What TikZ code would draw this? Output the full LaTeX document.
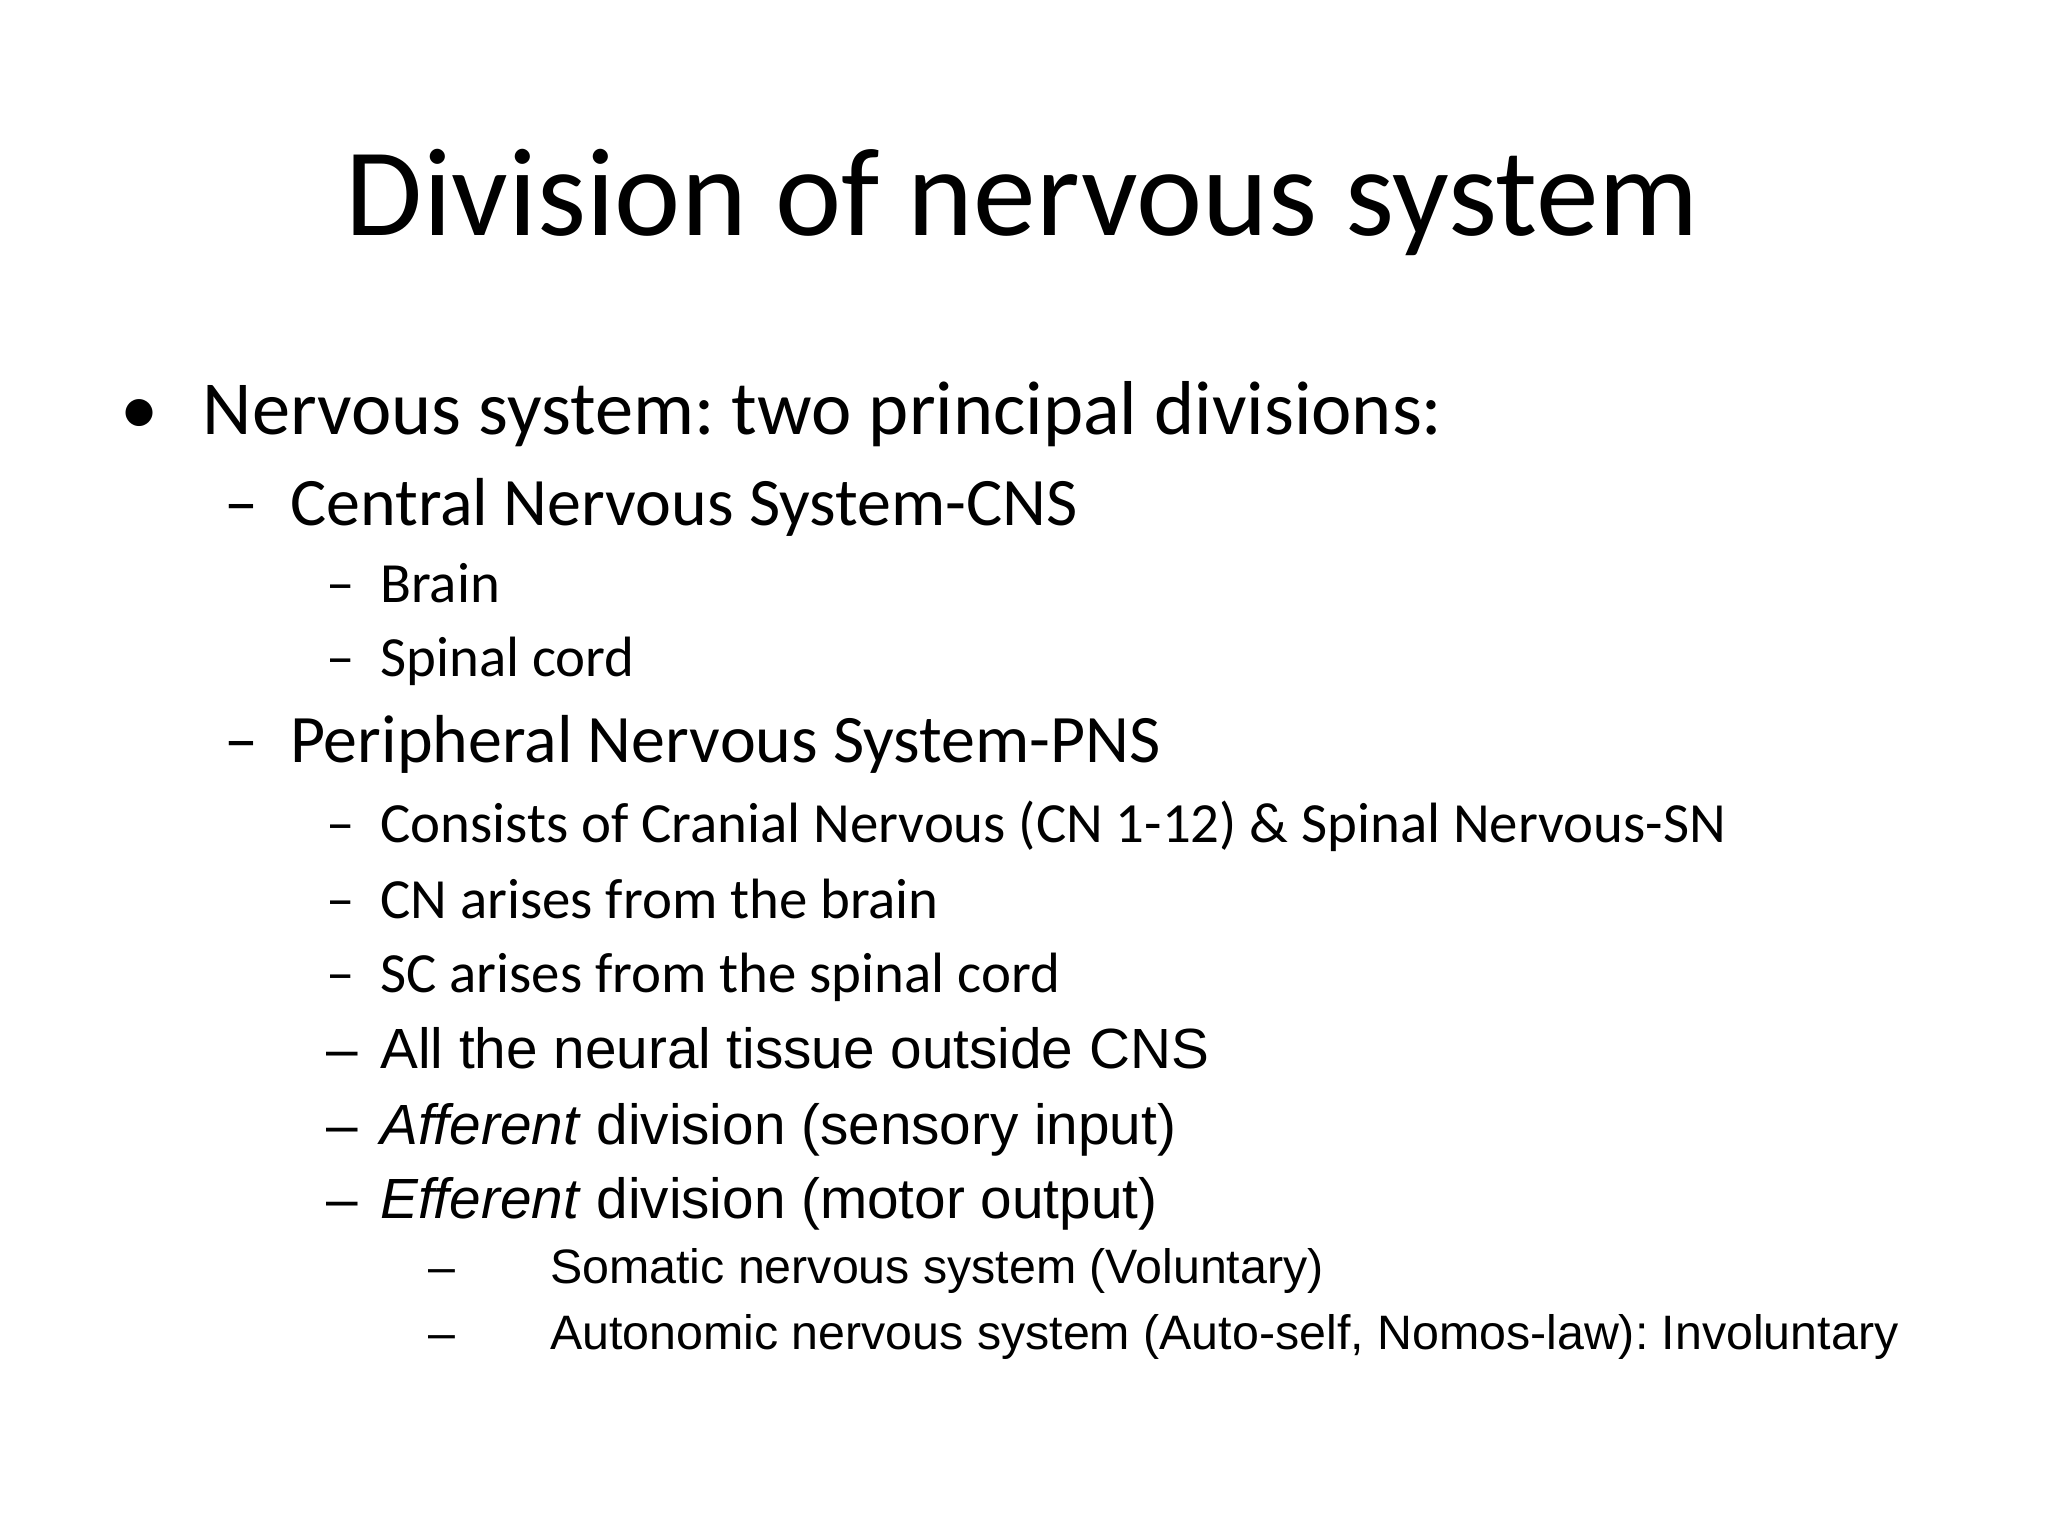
\documentclass[tikz,border=0pt]{standalone}
\usepackage{fontspec}
\setmainfont{Carlito}
\newfontfamily\arialf{Liberation Sans}
\frenchspacing
\begin{document}
\begin{tikzpicture}[x=1pt,y=-1pt,
  t/.style={anchor=base west,inner sep=0pt,text=black},
  cone/.style={t,font=\fontsize{58.5}{70}\selectfont},
  ctwo/.style={t,font=\fontsize{52}{60}\selectfont},
  cthree/.style={t,font=\fontsize{43.5}{52}\selectfont},
  athree/.style={t,font=\arialf\fontsize{43.4}{52}\selectfont},
  afour/.style={t,font=\arialf\fontsize{37}{44}\selectfont}]
\useasboundingbox (0,0) rectangle (1568,1176);
\fill[white] (0,0) rectangle (1568,1176);
\node[inner sep=0pt,anchor=base,font=\fontsize{96}{110}\selectfont] (title) at (783,180) {Division of nervous system};
\node[cone] (b1) at (92,333) {•};
\node[cone] (l1) at (155,333) {Nervous system: two principal divisions:};
\node[ctwo] (d2) at (172,402) {–};
\node[ctwo] (l2) at (222,402) {Central Nervous System-CNS};
\node[cthree] (d3) at (250,461) {–};
\node[cthree] (l3) at (291,461) {Brain};
\node[cthree] (d4) at (250,518) {–};
\node[cthree] (l4) at (291,518) {Spinal cord};
\node[ctwo] (d5) at (172,584) {–};
\node[ctwo] (l5) at (222,584) {Peripheral Nervous System-PNS};
\node[cthree] (d6) at (250,645) {–};
\node[cthree] (l6) at (291,645) {Consists of Cranial Nervous (CN 1-12) \& Spinal Nervous-SN};
\node[cthree] (d7) at (250,703) {–};
\node[cthree] (l7) at (291,703) {CN arises from the brain};
\node[cthree] (d8) at (250,760) {–};
\node[cthree] (l8) at (291,760) {SC arises from the spinal cord};
\node[athree] (d9) at (250,818) {–};
\node[athree] (l9) at (291,818) {All the neural tissue outside CNS};
\node[athree] (d10) at (250,876) {–};
\node[athree] (l10) at (291,876) {\textit{Afferent} division (sensory input)};
\node[athree] (d11) at (250,933) {–};
\node[athree] (l11) at (291,933) {\textit{Efferent} division (motor output)};
\node[afour] (d12) at (328,983) {–};
\node[afour] (l12) at (421,983) {Somatic nervous system (Voluntary)};
\node[afour] (d13) at (328,1033) {–};
\node[afour] (l13) at (421,1033) {Autonomic nervous system (Auto-self, Nomos-law): Involuntary};
\end{tikzpicture}
\end{document}
